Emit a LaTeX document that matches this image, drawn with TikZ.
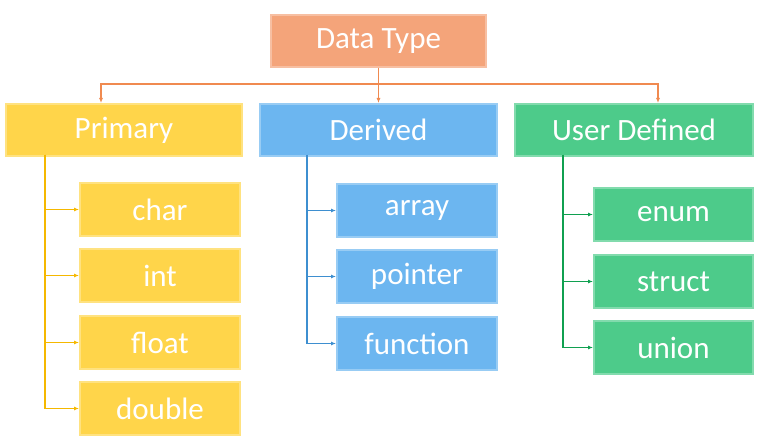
\documentclass[tikz,border=0pt]{standalone}
\usepackage{fontspec}
\setmainfont{Carlito}
\definecolor{orA}{HTML}{F4A47A}\definecolor{orL}{HTML}{F08A50}
\definecolor{yeA}{HTML}{FFD54A}\definecolor{yeL}{HTML}{F5B800}
\definecolor{blA}{HTML}{6CB6F0}\definecolor{blL}{HTML}{3E8FD0}
\definecolor{grA}{HTML}{4DCB8A}\definecolor{grL}{HTML}{10A050}
\begin{document}
\begin{tikzpicture}[x=1pt,y=-1pt,
 bx/.style={draw=#1!70!white,line width=2pt,fill=#1,text=white,font=\fontsize{31}{31}\selectfont,inner sep=0pt,anchor=north west},
 ln/.style={draw=#1,line width=1.2pt,-{Latex[length=5pt,width=4pt]}}]
\usetikzlibrary{arrows.meta}
\useasboundingbox (0,0) rectangle (768,438);
\node[bx=orA,minimum width=215,minimum height=52] (dt) at (270,14) {Data Type};
\node[bx=yeA,minimum width=236,minimum height=52] (pr) at (5,103) {Primary};
\node[bx=blA,minimum width=237,minimum height=52] (de) at (259,103) {Derived};
\node[bx=grA,minimum width=238,minimum height=52] (ud) at (514,103) {User Defined};
\foreach \n/\t/\y in {c/char/182,i/int/248,f/float/315,d/double/381}
 \node[bx=yeA,minimum width=160,minimum height=53] (p\n) at (79,\y) {\t};
\foreach \n/\t/\y in {a/array/183,p/pointer/249,f/function/316}
 \node[bx=blA,minimum width=160,minimum height=53] (d\n) at (336,\y) {\t};
\foreach \n/\t/\y in {e/enum/187,s/struct/254,u/union/320}
 \node[bx=grA,minimum width=159,minimum height=53] (u\n) at (593,\y) {\t};
\coordinate (h) at (378,84);
\draw[ln=orL] (dt.south) -- (de.north);
\draw[ln=orL] (h) -| ([xshift=-23]pr.north);
\draw[ln=orL] (h) -| ([xshift=24]ud.north);
\foreach \n in {c,i,f,d} \draw[ln=yeL] (45,155) |- (p\n.west);
\foreach \n in {a,p,f} \draw[ln=blL] (307,155) |- (d\n.west);
\foreach \n in {e,s,u} \draw[ln=grL] (563,155) |- (u\n.west);
\end{tikzpicture}
\end{document}
